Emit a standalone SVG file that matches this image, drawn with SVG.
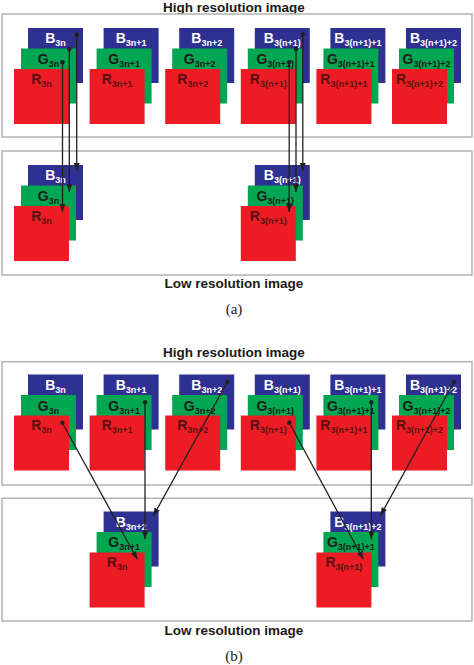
<svg xmlns="http://www.w3.org/2000/svg" width="474" height="665" viewBox="0 0 474 665">
<style>
.frame{fill:#fff;stroke:#b3b3b3;stroke-width:1.5}
.b{fill:#2e3192}
.g{fill:#00a651}
.r{fill:#ed1c24}
.lbl{font-family:"Liberation Sans",Arial,sans-serif;font-weight:bold;font-size:14px;text-anchor:middle}
.lb{fill:#fff}
.lg{fill:#1d1d1b}
.lr{fill:#5a1010}
.sub{font-size:9px}
.title{font-family:"Liberation Sans",Arial,sans-serif;font-weight:bold;font-size:13.5px;text-anchor:middle;fill:#1a1a1a}
.cap{font-family:"Liberation Serif","Times New Roman",serif;font-size:15px;text-anchor:middle;fill:#1a1a1a}
.con{stroke:#231f20;stroke-width:1.3;fill:none;marker-end:url(#ah)}
.dot{fill:#231f20}
</style>
<defs>
<marker id="ah" viewBox="0 0 8 6" refX="8" refY="3" markerWidth="8" markerHeight="6" markerUnits="userSpaceOnUse" orient="auto"><path d="M0,0 L8,3 L0,6 z" fill="#231f20"/></marker>
</defs>
<rect width="474" height="665" fill="#fff"/>

<!-- Panel (a) -->
<text class="title" x="234" y="11.5">High resolution image</text>
<rect class="frame" x="2" y="14" width="470" height="123"/>
<rect class="frame" x="2" y="151" width="470" height="124"/>
<text class="title" x="234" y="288">Low resolution image</text>
<text class="cap" x="234" y="314">(a)</text>

<g id="a-hi-0">
<g id="a-hi-0-B"><rect class="b" x="28" y="28" width="55" height="55"/><text class="lbl lb" x="55.5" y="43">B<tspan class="sub" dy="3">3n</tspan></text></g>
<g id="a-hi-0-G"><rect class="g" x="21" y="48.5" width="55" height="55"/><text class="lbl lg" x="48.5" y="64">G<tspan class="sub" dy="3">3n</tspan></text></g>
<g id="a-hi-0-R"><rect class="r" x="14" y="69" width="55" height="55"/><text class="lbl lr" x="41.5" y="83.5">R<tspan class="sub" dy="3">3n</tspan></text></g>
</g>
<g id="a-hi-1">
<g id="a-hi-1-B"><rect class="b" x="103.6" y="28" width="55" height="55"/><text class="lbl lb" x="131.1" y="43">B<tspan class="sub" dy="3">3n+1</tspan></text></g>
<g id="a-hi-1-G"><rect class="g" x="96.6" y="48.5" width="55" height="55"/><text class="lbl lg" x="124.1" y="64">G<tspan class="sub" dy="3">3n+1</tspan></text></g>
<g id="a-hi-1-R"><rect class="r" x="89.6" y="69" width="55" height="55"/><text class="lbl lr" x="117.1" y="83.5">R<tspan class="sub" dy="3">3n+1</tspan></text></g>
</g>
<g id="a-hi-2">
<g id="a-hi-2-B"><rect class="b" x="179.2" y="28" width="55" height="55"/><text class="lbl lb" x="206.7" y="43">B<tspan class="sub" dy="3">3n+2</tspan></text></g>
<g id="a-hi-2-G"><rect class="g" x="172.2" y="48.5" width="55" height="55"/><text class="lbl lg" x="199.7" y="64">G<tspan class="sub" dy="3">3n+2</tspan></text></g>
<g id="a-hi-2-R"><rect class="r" x="165.2" y="69" width="55" height="55"/><text class="lbl lr" x="192.7" y="83.5">R<tspan class="sub" dy="3">3n+2</tspan></text></g>
</g>
<g id="a-hi-3">
<g id="a-hi-3-B"><rect class="b" x="254.8" y="28" width="55" height="55"/><text class="lbl lb" x="282.3" y="43">B<tspan class="sub" dy="3">3(n+1)</tspan></text></g>
<g id="a-hi-3-G"><rect class="g" x="247.8" y="48.5" width="55" height="55"/><text class="lbl lg" x="275.3" y="64">G<tspan class="sub" dy="3">3(n+1)</tspan></text></g>
<g id="a-hi-3-R"><rect class="r" x="240.8" y="69" width="55" height="55"/><text class="lbl lr" x="268.3" y="83.5">R<tspan class="sub" dy="3">3(n+1)</tspan></text></g>
</g>
<g id="a-hi-4">
<g id="a-hi-4-B"><rect class="b" x="330.4" y="28" width="55" height="55"/><text class="lbl lb" x="357.9" y="43">B<tspan class="sub" dy="3">3(n+1)+1</tspan></text></g>
<g id="a-hi-4-G"><rect class="g" x="323.4" y="48.5" width="55" height="55"/><text class="lbl lg" x="350.9" y="64">G<tspan class="sub" dy="3">3(n+1)+1</tspan></text></g>
<g id="a-hi-4-R"><rect class="r" x="316.4" y="69" width="55" height="55"/><text class="lbl lr" x="343.9" y="83.5">R<tspan class="sub" dy="3">3(n+1)+1</tspan></text></g>
</g>
<g id="a-hi-5">
<g id="a-hi-5-B"><rect class="b" x="406" y="28" width="55" height="55"/><text class="lbl lb" x="433.5" y="43">B<tspan class="sub" dy="3">3(n+1)+2</tspan></text></g>
<g id="a-hi-5-G"><rect class="g" x="399" y="48.5" width="55" height="55"/><text class="lbl lg" x="426.5" y="64">G<tspan class="sub" dy="3">3(n+1)+2</tspan></text></g>
<g id="a-hi-5-R"><rect class="r" x="392" y="69" width="55" height="55"/><text class="lbl lr" x="419.5" y="83.5">R<tspan class="sub" dy="3">3(n+1)+2</tspan></text></g>
</g>

<g id="a-lo-0">
<g id="a-lo-0-B"><rect class="b" x="28" y="165" width="55" height="55"/><text class="lbl lb" x="55.5" y="180">B<tspan class="sub" dy="3">3n</tspan></text></g>
<g id="a-lo-0-G"><rect class="g" x="21" y="185.5" width="55" height="55"/><text class="lbl lg" x="48.5" y="200.5">G<tspan class="sub" dy="3">3n</tspan></text></g>
<g id="a-lo-0-R"><rect class="r" x="14" y="206" width="55" height="55"/><text class="lbl lr" x="41.5" y="220.5">R<tspan class="sub" dy="3">3n</tspan></text></g>
</g>
<g id="a-lo-1">
<g id="a-lo-1-B"><rect class="b" x="254.8" y="165" width="55" height="55"/><text class="lbl lb" x="282.3" y="180">B<tspan class="sub" dy="3">3(n+1)</tspan></text></g>
<g id="a-lo-1-G"><rect class="g" x="247.8" y="185.5" width="55" height="55"/><text class="lbl lg" x="275.3" y="200.5">G<tspan class="sub" dy="3">3(n+1)</tspan></text></g>
<g id="a-lo-1-R"><rect class="r" x="240.8" y="206" width="55" height="55"/><text class="lbl lr" x="268.3" y="220.5">R<tspan class="sub" dy="3">3(n+1)</tspan></text></g>
</g>

<g id="a-connectors">
<line class="con" x1="76.7" y1="34.7" x2="76.7" y2="171"/>
<line class="con" x1="69.3" y1="49" x2="69.3" y2="192"/>
<line class="con" x1="62.5" y1="62.3" x2="62.5" y2="212"/>
<line class="con" x1="302.8" y1="34.5" x2="302.8" y2="171"/>
<line class="con" x1="296" y1="49" x2="296" y2="192"/>
<line class="con" x1="289.2" y1="62.3" x2="289.2" y2="212"/>
<circle class="dot" cx="76.7" cy="34.7" r="2.2"/>
<circle class="dot" cx="69.3" cy="49" r="2.2"/>
<circle class="dot" cx="62.5" cy="62.3" r="2.2"/>
<circle class="dot" cx="302.8" cy="34.5" r="2.2"/>
<circle class="dot" cx="296" cy="49" r="2.2"/>
<circle class="dot" cx="289.2" cy="62.3" r="2.2"/>
</g>

<!-- Panel (b) -->
<text class="title" x="234" y="357">High resolution image</text>
<rect class="frame" x="2" y="361.7" width="470" height="123.3"/>
<rect class="frame" x="2" y="498.3" width="470" height="122.7"/>
<text class="title" x="234" y="634.5">Low resolution image</text>
<text class="cap" x="234" y="661">(b)</text>

<g id="b-hi-0">
<g id="b-hi-0-B"><rect class="b" x="28" y="374.5" width="55" height="55"/><text class="lbl lb" x="55.5" y="389.5">B<tspan class="sub" dy="3">3n</tspan></text></g>
<g id="b-hi-0-G"><rect class="g" x="21" y="395" width="55" height="55"/><text class="lbl lg" x="48.5" y="410.5">G<tspan class="sub" dy="3">3n</tspan></text></g>
<g id="b-hi-0-R"><rect class="r" x="14" y="415.5" width="55" height="55"/><text class="lbl lr" x="41.5" y="430">R<tspan class="sub" dy="3">3n</tspan></text></g>
</g>
<g id="b-hi-1">
<g id="b-hi-1-B"><rect class="b" x="103.6" y="374.5" width="55" height="55"/><text class="lbl lb" x="131.1" y="389.5">B<tspan class="sub" dy="3">3n+1</tspan></text></g>
<g id="b-hi-1-G"><rect class="g" x="96.6" y="395" width="55" height="55"/><text class="lbl lg" x="124.1" y="410.5">G<tspan class="sub" dy="3">3n+1</tspan></text></g>
<g id="b-hi-1-R"><rect class="r" x="89.6" y="415.5" width="55" height="55"/><text class="lbl lr" x="117.1" y="430">R<tspan class="sub" dy="3">3n+1</tspan></text></g>
</g>
<g id="b-hi-2">
<g id="b-hi-2-B"><rect class="b" x="179.2" y="374.5" width="55" height="55"/><text class="lbl lb" x="206.7" y="389.5">B<tspan class="sub" dy="3">3n+2</tspan></text></g>
<g id="b-hi-2-G"><rect class="g" x="172.2" y="395" width="55" height="55"/><text class="lbl lg" x="199.7" y="410.5">G<tspan class="sub" dy="3">3n+2</tspan></text></g>
<g id="b-hi-2-R"><rect class="r" x="165.2" y="415.5" width="55" height="55"/><text class="lbl lr" x="192.7" y="430">R<tspan class="sub" dy="3">3n+2</tspan></text></g>
</g>
<g id="b-hi-3">
<g id="b-hi-3-B"><rect class="b" x="254.8" y="374.5" width="55" height="55"/><text class="lbl lb" x="282.3" y="389.5">B<tspan class="sub" dy="3">3(n+1)</tspan></text></g>
<g id="b-hi-3-G"><rect class="g" x="247.8" y="395" width="55" height="55"/><text class="lbl lg" x="275.3" y="410.5">G<tspan class="sub" dy="3">3(n+1)</tspan></text></g>
<g id="b-hi-3-R"><rect class="r" x="240.8" y="415.5" width="55" height="55"/><text class="lbl lr" x="268.3" y="430">R<tspan class="sub" dy="3">3(n+1)</tspan></text></g>
</g>
<g id="b-hi-4">
<g id="b-hi-4-B"><rect class="b" x="330.4" y="374.5" width="55" height="55"/><text class="lbl lb" x="357.9" y="389.5">B<tspan class="sub" dy="3">3(n+1)+1</tspan></text></g>
<g id="b-hi-4-G"><rect class="g" x="323.4" y="395" width="55" height="55"/><text class="lbl lg" x="350.9" y="410.5">G<tspan class="sub" dy="3">3(n+1)+1</tspan></text></g>
<g id="b-hi-4-R"><rect class="r" x="316.4" y="415.5" width="55" height="55"/><text class="lbl lr" x="343.9" y="430">R<tspan class="sub" dy="3">3(n+1)+1</tspan></text></g>
</g>
<g id="b-hi-5">
<g id="b-hi-5-B"><rect class="b" x="406" y="374.5" width="55" height="55"/><text class="lbl lb" x="433.5" y="389.5">B<tspan class="sub" dy="3">3(n+1)+2</tspan></text></g>
<g id="b-hi-5-G"><rect class="g" x="399" y="395" width="55" height="55"/><text class="lbl lg" x="426.5" y="410.5">G<tspan class="sub" dy="3">3(n+1)+2</tspan></text></g>
<g id="b-hi-5-R"><rect class="r" x="392" y="415.5" width="55" height="55"/><text class="lbl lr" x="419.5" y="430">R<tspan class="sub" dy="3">3(n+1)+2</tspan></text></g>
</g>

<g id="b-lo-0">
<g id="b-lo-0-B"><rect class="b" x="103.6" y="511.5" width="55" height="55"/><text class="lbl lb" x="131.1" y="526.5">B<tspan class="sub" dy="3">3n+2</tspan></text></g>
<g id="b-lo-0-G"><rect class="g" x="96.6" y="532" width="55" height="55"/><text class="lbl lg" x="124.1" y="547">G<tspan class="sub" dy="3">3n+1</tspan></text></g>
<g id="b-lo-0-R"><rect class="r" x="89.6" y="552.5" width="55" height="55"/><text class="lbl lr" x="117.1" y="567">R<tspan class="sub" dy="3">3n</tspan></text></g>
</g>
<g id="b-lo-1">
<g id="b-lo-1-B"><rect class="b" x="330.4" y="511.5" width="55" height="55"/><text class="lbl lb" x="357.9" y="526.5">B<tspan class="sub" dy="3">3(n+1)+2</tspan></text></g>
<g id="b-lo-1-G"><rect class="g" x="323.4" y="532" width="55" height="55"/><text class="lbl lg" x="350.9" y="547">G<tspan class="sub" dy="3">3(n+1)+1</tspan></text></g>
<g id="b-lo-1-R"><rect class="r" x="316.4" y="552.5" width="55" height="55"/><text class="lbl lr" x="343.9" y="567">R<tspan class="sub" dy="3">3(n+1)</tspan></text></g>
</g>

<g id="b-connectors">
<line class="con" x1="62.3" y1="422.7" x2="137.3" y2="559.3"/>
<line class="con" x1="145" y1="402.3" x2="145" y2="539.3"/>
<line class="con" x1="227.3" y1="382" x2="153.3" y2="516"/>
<line class="con" x1="289.3" y1="422.7" x2="363.3" y2="559.3"/>
<line class="con" x1="371.3" y1="402.3" x2="371.3" y2="539.3"/>
<line class="con" x1="454" y1="382" x2="380.5" y2="515.5"/>
<circle class="dot" cx="62.3" cy="422.7" r="2.2"/>
<circle class="dot" cx="145" cy="402.3" r="2.2"/>
<circle class="dot" cx="227.3" cy="382" r="2.2"/>
<circle class="dot" cx="289.3" cy="422.7" r="2.2"/>
<circle class="dot" cx="371.3" cy="402.3" r="2.2"/>
<circle class="dot" cx="454" cy="382" r="2.2"/>
</g>
</svg>
